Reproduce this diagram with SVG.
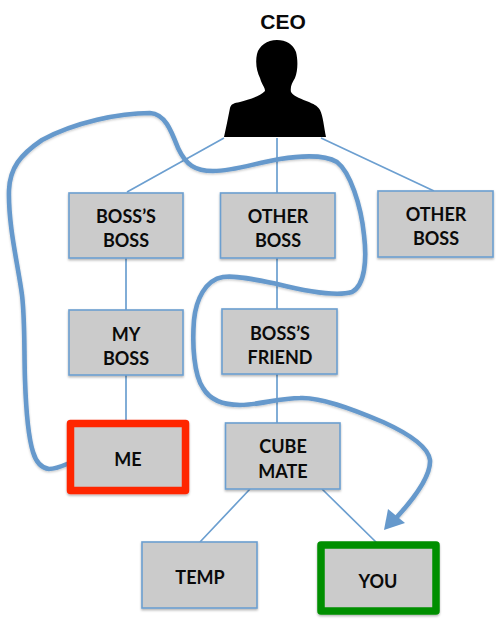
<svg xmlns="http://www.w3.org/2000/svg" width="500" height="626" viewBox="0 0 500 626">
<style>
.box{fill:#cbcbcb;stroke:#6c9fd0;stroke-width:1.6;filter:url(#sh)}
.thick{fill:#cbcbcb;stroke-width:7.5;stroke-linejoin:round;filter:url(#sh)}
.lbl{font-family:"Lato","Liberation Sans",sans-serif;font-weight:700;font-size:18px;fill:#0a0a0a;text-anchor:middle}
.thin{fill:none;stroke:#6c9fd0;stroke-width:1.7}
.route{fill:none;stroke:#6699cc;stroke-width:4.6;stroke-linecap:round;stroke-linejoin:round;filter:url(#sh2)}
</style>
<defs>
<filter id="sh" x="-10%" y="-10%" width="120%" height="125%"><feDropShadow dx="0" dy="1.5" stdDeviation="1.2" flood-color="#000" flood-opacity="0.3"/></filter>
<filter id="sh2" x="-5%" y="-5%" width="110%" height="110%"><feDropShadow dx="0" dy="1.2" stdDeviation="0.8" flood-color="#000" flood-opacity="0.22"/></filter>
</defs>
<rect width="500" height="626" fill="#fff"/>
<g id="connectors">
<path class="thin" d="M224 138L127 192M277 138V193M321 138L434 191M126 258V310M126 375V421M277 258V309M277 374V423M250 489L200 542M322 489L379 545"/>
<path class="route" d="M67 464C60 467 55 469 49 469C41 468 36 462 33 452C28 436 26 410 25 380C24 350 25 320 22 295C18 265 8 225 9 190C10 168 20 155 42 140C75 122 120 113 150 113C165 114 171 130 178 148C186 165 195 171 213 171C235 171 255 163 280 159C305 155 325 155 337 162C350 172 361 205 364 235C367 260 365 285 352 292C335 297 305 291 277 284C258 280 235 275 223 277C205 280 196 300 194 320C192 345 194 375 203 388C210 400 222 405 240 405C258 405 280 398 300 398C320 397 350 408 383 422C405 432 428 445 430 460C431 475 417 495 397 517"/>
<polygon fill="#6699cc" points="384,530 388,509 405,523"/>
</g>
<g id="ceo">
<text x="283" y="29" font-family="Liberation Sans,sans-serif" font-weight="700" font-size="21" text-anchor="middle" fill="#0a0a0a">CEO</text>
<path d="M277 40C267 40 259 46 257 54C255 63 257 72 260 78C262 85 265 87 265 91C259 97 247 100 240 102C234 103 231 104 230 108C228 118 226 128 224 137H326C324 127 323 116 320 110C317 105 313 104 309 102C302 99 294 97 291 92C290 87 292 83 295 78C298 70 298 60 296 52C293 44 286 40 277 40Z" fill="#000"/>
</g>
<g id="boss-boss"><rect class="box" x="69" y="193" width="114" height="65"/><text class="lbl" x="126" y="223">BOSS’S</text><text class="lbl" x="126" y="247">BOSS</text></g>
<g id="other-boss-1"><rect class="box" x="220.500" y="193" width="114.500" height="65"/><text class="lbl" x="278" y="223">OTHER</text><text class="lbl" x="278" y="247">BOSS</text></g>
<g id="other-boss-2"><rect class="box" x="378" y="191" width="115" height="66"/><text class="lbl" x="436" y="221">OTHER</text><text class="lbl" x="436" y="245">BOSS</text></g>
<g id="my-boss"><rect class="box" x="69" y="310" width="114" height="65"/><text class="lbl" x="126" y="341">MY</text><text class="lbl" x="126" y="365">BOSS</text></g>
<g id="boss-friend"><rect class="box" x="222" y="309" width="115" height="65"/><text class="lbl" x="280" y="340">BOSS’S</text><text class="lbl" x="280" y="364">FRIEND</text></g>
<g id="me"><rect class="thick" x="70.500" y="423.500" width="115" height="67" stroke="#ff2600"/><text class="lbl" x="128" y="466">ME</text></g>
<g id="cube-mate"><rect class="box" x="225.500" y="423" width="114.500" height="66"/><text class="lbl" x="283" y="453">CUBE</text><text class="lbl" x="283" y="478">MATE</text></g>
<g id="temp"><rect class="box" x="142" y="542" width="115" height="66"/><text class="lbl" x="200" y="584">TEMP</text></g>
<g id="you"><rect class="thick" x="321" y="545" width="115" height="66" stroke="#008f00"/><text class="lbl" x="378" y="588">YOU</text></g>
</svg>
